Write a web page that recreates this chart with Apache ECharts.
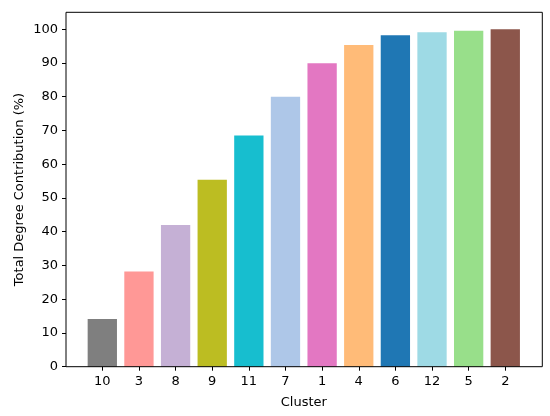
<!DOCTYPE html>
<html><head><meta charset="utf-8">
<script src="https://cdn.jsdelivr.net/npm/echarts@6/dist/echarts.min.js"></script>
<style>html,body{margin:0;padding:0;background:#fff}#c{width:550px;height:416px}</style>
</head><body><div id="c"></div>
<script>
const categories = ['10','3','8','9','11','7','1','4','6','12','5','2'];
const values = [14.1, 28.2, 42.0, 55.4, 68.5, 80.0, 89.9, 95.3, 98.2, 99.1, 99.5, 100.0];
const colors = ['#7f7f7f','#ff9896','#c5b0d5','#bcbd22','#17becf','#aec7e8','#e377c2','#ffbb78','#1f77b4','#9edae5','#98df8a','#8c564b'];
const yTicks = [0,10,20,30,40,50,60,70,80,90,100];

const chart = echarts.init(document.getElementById('c'), null, {renderer:'canvas'});
const font = 'DejaVu Sans';
chart.setOption({
  animation:false,
  backgroundColor:'#fff',
  grid:{left:84, right:26.4, top:12.3, bottom:49.3},
  graphic:[{type:'rect', shape:{x:66, y:12.3, width:476.3, height:354.4}, style:{fill:'none', stroke:'#000', lineWidth:1}, z:100}],
  xAxis:{type:'category', data:categories,
    axisLine:{show:false},
    axisTick:{show:true, alignWithLabel:true, length:4, lineStyle:{color:'#000'}},
    axisLabel:{color:'#000', fontFamily:font, fontSize:13, margin:8},
    name:'Cluster', nameLocation:'middle', nameGap:29, nameMoveOverlap:false,
    nameTextStyle:{color:'#000', fontFamily:font, fontSize:13}},
  yAxis:{type:'value', min:0, max:105, interval:10, offset:18,
    splitLine:{show:false},
    axisLine:{show:false},
    axisTick:{show:true, length:4, lineStyle:{color:'#000'}},
    axisLabel:{color:'#000', fontFamily:font, fontSize:13, margin:8, showMaxLabel:false,
      formatter:v=>yTicks.includes(v)?String(v):''},
    name:'Total Degree Contribution (%)', nameLocation:'middle', nameGap:40, nameMoveOverlap:false,
    nameTextStyle:{color:'#000', fontFamily:font, fontSize:13}},
  series:[{type:'bar', barCategoryGap:'20%',
    data:values.map((v,i)=>({value:v, itemStyle:{color:colors[i]}}))}]
});
</script></body></html>
